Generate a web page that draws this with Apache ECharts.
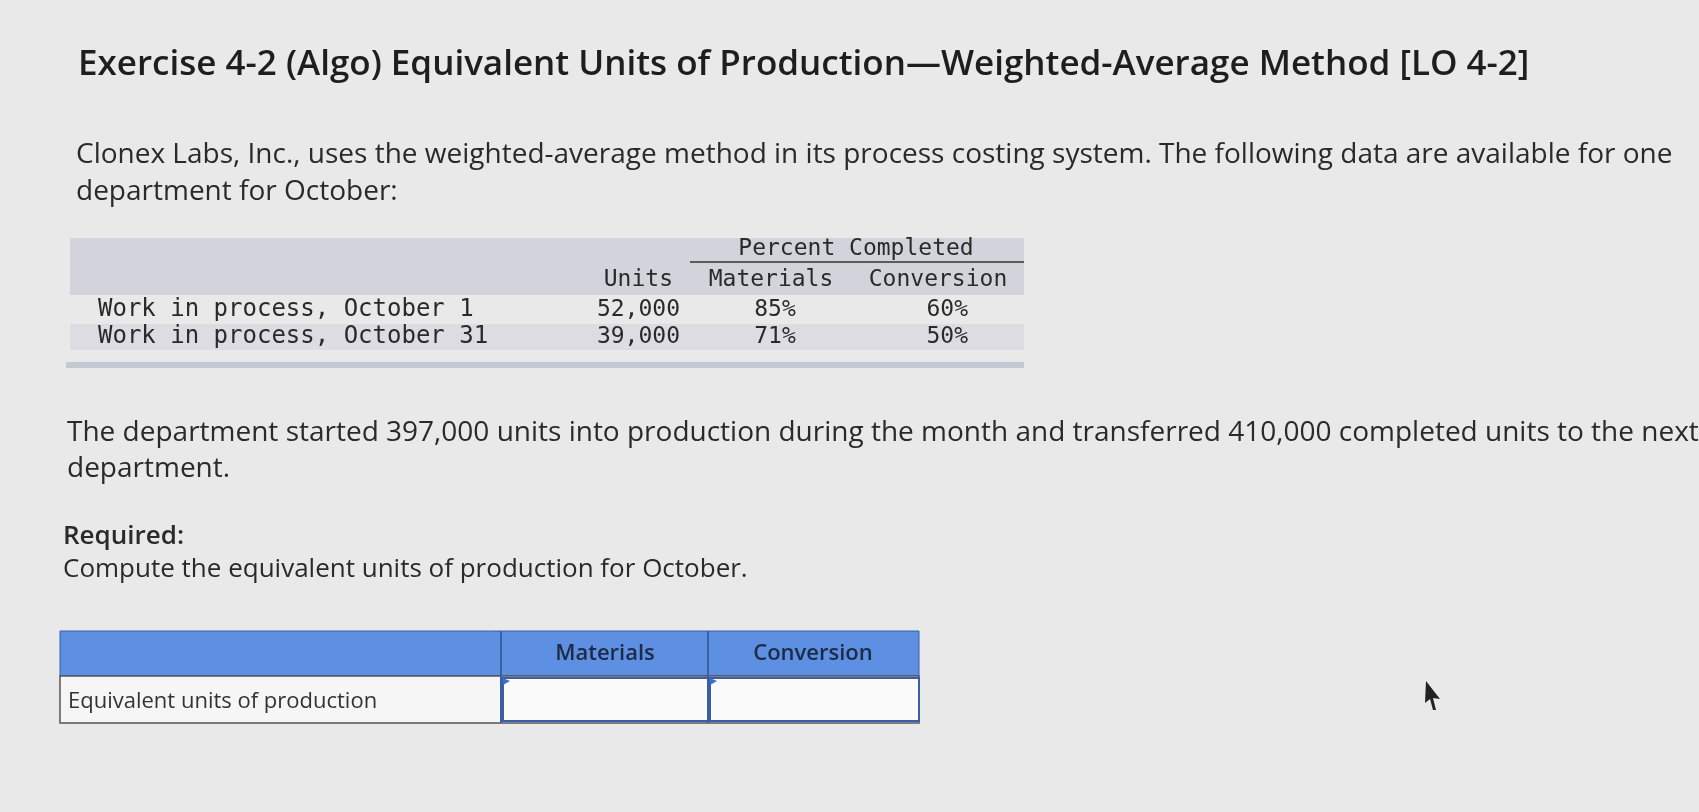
<!DOCTYPE html>
<html><head><meta charset="utf-8">
<script src="https://cdn.jsdelivr.net/npm/echarts@6/dist/echarts.min.js"></script>
<style>html,body{margin:0;padding:0;background:#e9e9e9}#c{width:1699px;height:812px}</style>
</head><body><div id="c"></div>
<script>
const title = "Exercise 4-2 (Algo) Equivalent Units of Production\u2014Weighted-Average Method [LO 4-2]";
const intro = ["Clonex Labs, Inc., uses the weighted-average method in its process costing system. The following data are available for one", "department for October:"];
const rowLabels = ["Work in process, October 1", "Work in process, October 31"];
const units = ["52,000", "39,000"];
const materials = ["85%", "71%"];
const conversion = ["60%", "50%"];
const body = ["The department started 397,000 units into production during the month and transferred 410,000 completed units to the next", "department."];
const answerCols = ["Materials", "Conversion"];
const answerRow = "Equivalent units of production";

const sans = "'Open Sans', 'Noto Sans', sans-serif";
const mono = "'DejaVu Sans Mono', monospace";
const g = [];
function t(x, y, s, o) { g.push({type:'text', x, y, style:Object.assign({text:s, fill:'#2a2a2a', font:'28px '+sans, textVerticalAlign:'middle'}, o||{})}); }
function r(x, y, w, h, o) { g.push({type:'rect', shape:{x,y,width:w,height:h}, style:Object.assign({fill:'#ccc'}, o||{})}); }

t(78, 65, title, {font:'600 35px '+sans, fill:'#1e1e1e'});
intro.forEach((s,i)=>t(76, 155+i*37, s));
// table
r(70, 238, 954, 57, {fill:'#d3d3db'});
r(70, 324, 954, 26, {fill:'#dcdce2'});
r(66, 362, 958, 6, {fill:'#c4c8d2'});
g.push({type:'line', shape:{x1:690,y1:262,x2:1024,y2:262}, style:{stroke:'#333', lineWidth:1.5}});
const mf = '23px '+mono;
t(856, 249, "Percent Completed", {font:mf, textAlign:'center'});
t(673, 280, "Units", {font:mf, textAlign:'right'});
t(771, 280, "Materials", {font:mf, textAlign:'center'});
t(938, 280, "Conversion", {font:mf, textAlign:'center'});
rowLabels.forEach((s,i)=>{
  const y = 310 + i*27;
  t(98, y, s, {font:'24px '+mono});
  t(680, y, units[i], {font:mf, textAlign:'right'});
  t(775, y, materials[i], {font:mf, textAlign:'center'});
  t(968, y, conversion[i], {font:mf, textAlign:'right'});
});
body.forEach((s,i)=>t(67, 433+i*36, s));
t(63, 537, "Required:", {font:'600 26px '+sans});
t(63, 570, "Compute the equivalent units of production for October.", {font:'26px '+sans});
// answer table
r(60, 631, 859, 45, {fill:'#5d8fe3', stroke:'#3b5fa6', lineWidth:1});
r(60, 676, 859, 47, {fill:'#f6f6f6', stroke:'#555', lineWidth:1.5});
[501, 708].forEach(x=>{
  g.push({type:'line', shape:{x1:x,y1:631,x2:x,y2:723}, style:{stroke:'#3b5fa6', lineWidth:2}});
  r(x+2, 678, 706-x > 0 ? 205 : 209, 43, {fill:'#fbfbfb', stroke:'#3b5fa6', lineWidth:2});
  g.push({type:'polygon', shape:{points:[[x+2,678],[x+9,681],[x+2,685]]}, style:{fill:'#3b6fd0'}});
});
t(605, 654, answerCols[0], {font:'600 22px '+sans, textAlign:'center', fill:'#1f2b44'});
t(813, 654, answerCols[1], {font:'600 22px '+sans, textAlign:'center', fill:'#1f2b44'});
t(68, 702, answerRow, {font:'22px '+sans, fill:'#333', letterSpacing:-0.5});
g.push({type:'polygon', shape:{points:[[1426,681],[1440,699],[1433,698],[1436,710],[1433,710],[1430,699],[1425,703]]}, style:{fill:'#222'}});

const chart = echarts.init(document.getElementById('c'));
chart.setOption({backgroundColor:'#e9e9e9', graphic:g});
</script></body></html>
